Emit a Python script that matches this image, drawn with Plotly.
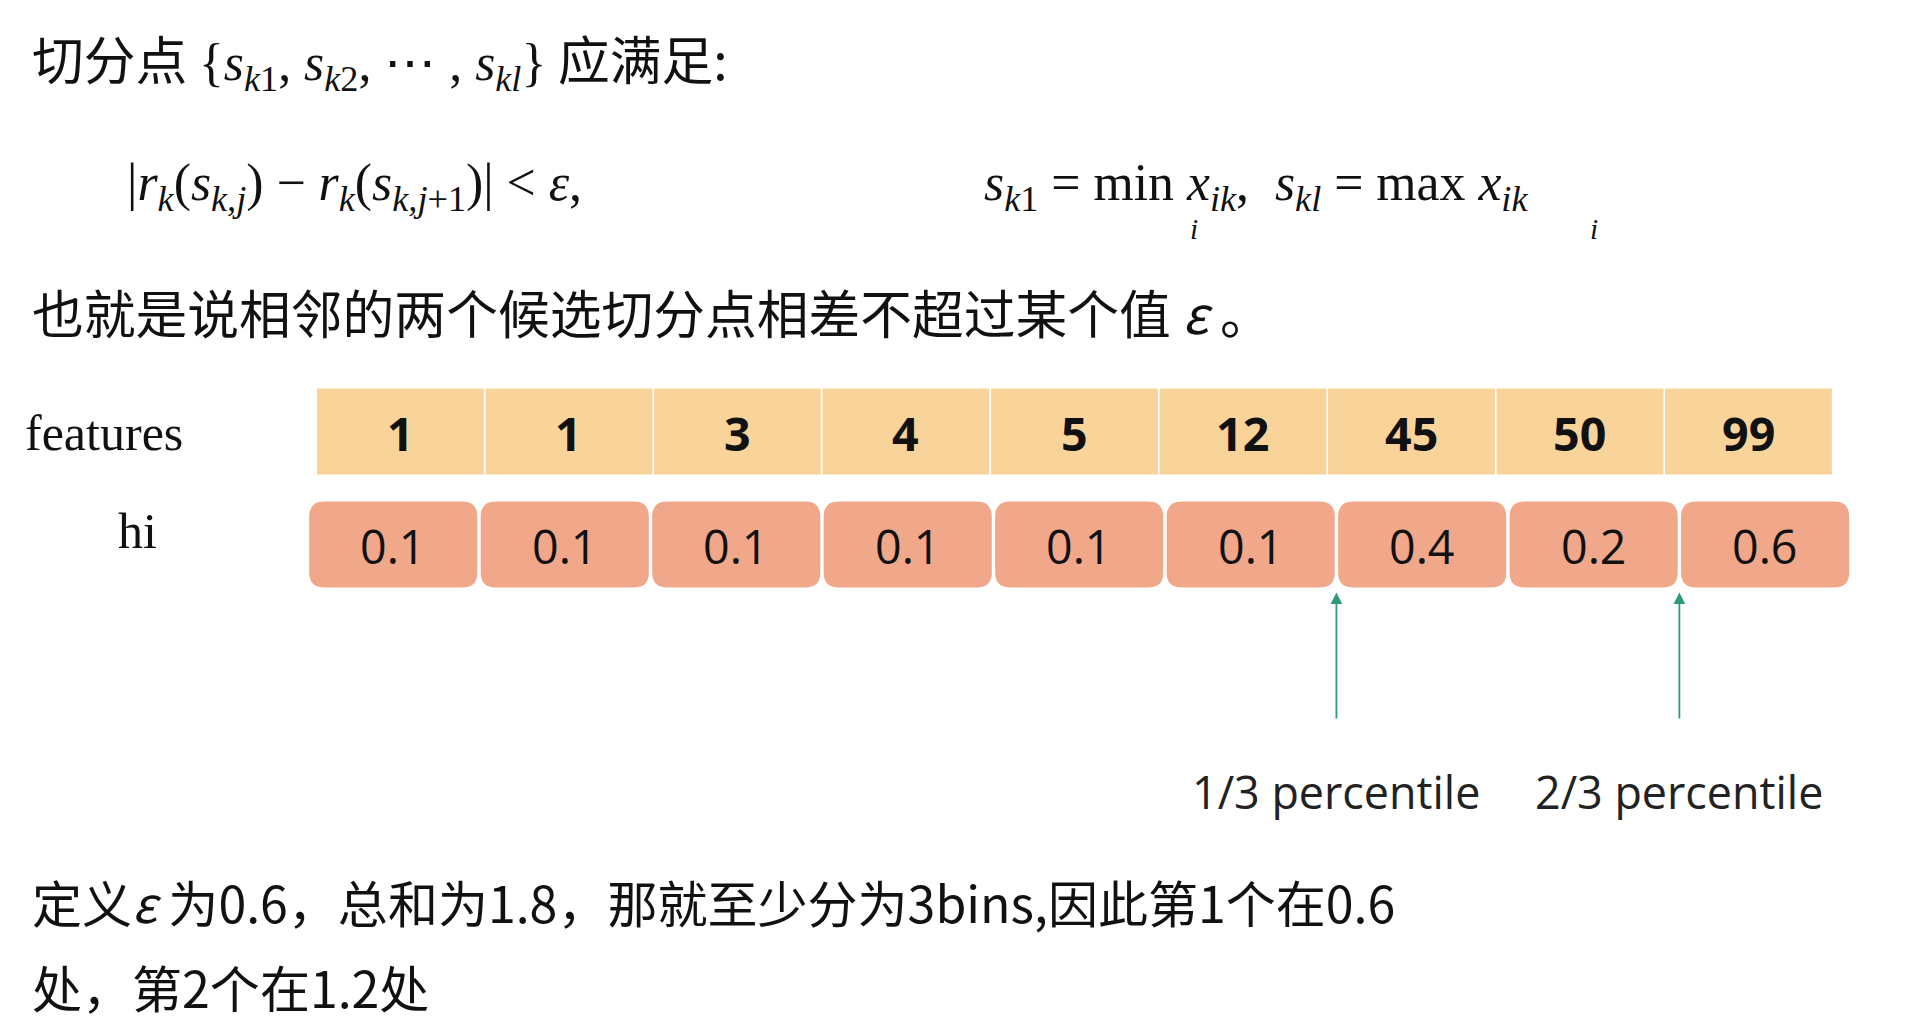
import plotly.graph_objects as go

features = [1, 1, 3, 4, 5, 12, 45, 50, 99]
hi = [0.1, 0.1, 0.1, 0.1, 0.1, 0.1, 0.4, 0.2, 0.6]
split_after = [6, 8]          # cut points sit after these cells
split_labels = ["1/3 percentile", "2/3 percentile"]

W, H = 1560.0, 830.0          # reference picture units
CELL0, CELLW = 250.0, 136.7   # first cell left edge, cell width
S = 1923 / W * 1.4            # font scale

CJK = "Noto Sans CJK SC"
SERIF = "Liberation Serif"

fig = go.Figure()


def rounded(x0, x1, y0, y1, rx, ry):
    return (f"M{x0+rx},{y0} L{x1-rx},{y0} Q{x1},{y0} {x1},{y0+ry} L{x1},{y1-ry} "
            f"Q{x1},{y1} {x1-rx},{y1} L{x0+rx},{y1} Q{x0},{y1} {x0},{y1-ry} "
            f"L{x0},{y0+ry} Q{x0},{y0} {x0+rx},{y0} Z")


shapes = []
n = len(features)
hw = (1495 - 243) / CELLW / n   # hi cells are slightly wider
hoff = (243 - CELL0) / CELLW
for i, v in enumerate(features):
    shapes.append(dict(type="rect", x0=i + 0.005, x1=i + 0.995, y0=310, y1=380,
                       fillcolor="#f9d49a", line_width=0, layer="below"))
    fig.add_annotation(x=i + 0.5, y=346, text=f"<b>{v}</b>", showarrow=False,
                       font=dict(family="Open Sans", size=27 * S, color="#111"))
for i, v in enumerate(hi):
    a = hoff + i * hw + 0.01
    b = hoff + (i + 1) * hw - 0.01
    shapes.append(dict(type="path", path=rounded(a, b, 402, 472, 0.09, 12),
                       fillcolor="#f0a78a", line_width=0, layer="below"))
    fig.add_annotation(x=(a + b) / 2, y=438, text=str(v), showarrow=False,
                       font=dict(family="Open Sans", size=27 * S, color="#111"))

for k, lab in zip(split_after, split_labels):
    xs = hoff + k * hw
    fig.add_annotation(x=xs, y=476, ax=xs, ay=580, xref="x", yref="y",
                       axref="x", ayref="y", text="", showarrow=True,
                       arrowhead=2, arrowsize=1.3, arrowwidth=1.8,
                       arrowcolor="#2e9a7a")
    fig.add_annotation(x=xs, y=638, text=lab, showarrow=False,
                       font=dict(family="Open Sans", size=26 * S, color="#222"))

fig.add_trace(go.Scatter(x=[0], y=[0], mode="markers", opacity=0, hoverinfo="skip"))


def note(px, py, text, size, family, anchor="left"):
    fig.add_annotation(x=px / W, y=1 - py / H, xref="paper", yref="paper",
                       text=text, showarrow=False, xanchor=anchor, yanchor="middle",
                       font=dict(family=family, size=size * S, color="#111"))


note(18, 42, "切分点 <span style='font-family:Liberation Serif'>{<i>s</i><sub><i>k</i>1</sub>, "
     "<i>s</i><sub><i>k</i>2</sub>, ⋯ , <i>s</i><sub><i>kl</i></sub>}</span> 应满足:", 30, CJK)
note(95, 145, "|<i>r<sub>k</sub></i>(<i>s</i><sub><i>k,j</i></sub>) − <i>r<sub>k</sub></i>"
     "(<i>s</i><sub><i>k,j</i>+1</sub>)| &lt; <i>ε</i>,", 30, SERIF)
note(790, 145, "<i>s</i><sub><i>k</i>1</sub> = min <i>x<sub>ik</sub></i>,  "
     "<i>s</i><sub><i>kl</i></sub> = max <i>x<sub>ik</sub></i>", 30, SERIF)
note(962, 180, "<i>i</i>", 17, SERIF, "center")
note(1287, 180, "<i>i</i>", 17, SERIF, "center")
note(18, 247, "也就是说相邻的两个候选切分点相差不超过某个值 <i>ε</i> 。", 30, CJK)
note(12, 346, "features", 29, SERIF)
note(88, 426, "hi", 29, SERIF)
note(18, 727, "定义<i>ε</i> 为0.6，总和为1.8，那就至少分为3bins,因此第1个在0.6", 29, CJK)
note(18, 797, "处，第2个在1.2处", 29, CJK)

fig.update_layout(
    shapes=shapes,
    width=1923, height=1019,
    margin=dict(l=0, r=0, t=0, b=0),
    plot_bgcolor="white", paper_bgcolor="white",
    showlegend=False,
    xaxis=dict(range=[-CELL0 / CELLW, (W - CELL0) / CELLW], visible=False),
    yaxis=dict(range=[H, 0], visible=False),
)

fig.write_html("out.html")
